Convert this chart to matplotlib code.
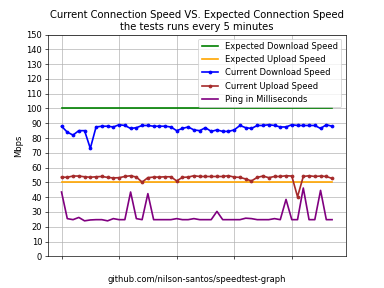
import matplotlib
matplotlib.use('Agg')
import matplotlib.pyplot as plt

# speedtest runs (one every 5 minutes)
download = [88, 84, 82, 85, 85, 73, 87.5, 88, 88, 87.5, 89, 88.5, 86.5, 87, 88.5, 88.5,
            88, 88, 88, 87.5, 85, 86.5, 87.5, 85.5, 85, 87, 84.5, 85.5, 84.5, 84.5,
            85.5, 88.5, 87, 86.5, 88.5, 88.5, 89, 88.5, 87.5, 87.5, 89, 88.5, 88.5,
            88.5, 88.5, 86.5, 89, 88]
upload = [53.5, 53.5, 54.3, 54.3, 53.8, 53.5, 53.8, 54, 53.4, 53, 53.2, 54, 54.5, 53.6,
          50.2, 53.2, 53.6, 53.6, 53.8, 53.8, 51, 53.4, 53.6, 54.5, 54, 54, 54, 54,
          54, 54.5, 53.6, 53.4, 52.3, 51, 53.4, 54.3, 53.2, 54, 54, 54.5, 54.3, 40.3,
          54, 54.5, 54, 54.3, 54, 52.7]
ping = [43.5, 25.5, 24.8, 26.3, 24, 24.6, 24.8, 24.8, 24, 25.5, 24.8, 24.8, 43.5, 25.5,
        24.8, 42.4, 24.8, 24.8, 24.8, 24.8, 25.5, 24.8, 24.8, 25.5, 24.8, 24.8, 24.8,
        30.4, 24.8, 24.8, 24.8, 24.8, 25.8, 25.5, 24.8, 24.8, 24.8, 25.5, 24.8, 38.5,
        24.8, 24.8, 46.2, 24.8, 24.8, 44.6, 24.8, 24.8]
expected_download = 100
expected_upload = 50

runs = list(range(len(download)))

fig = plt.figure(figsize=(6.4, 4.8), dpi=60)
lw = 2
plt.plot(runs, [expected_download] * len(runs), color='green', lw=lw, label='Expected Download Speed')
plt.plot(runs, [expected_upload] * len(runs), color='orange', lw=lw, label='Expected Upload Speed')
plt.plot(runs, download, color='blue', marker='.', ms=7, lw=lw, label='Current Download Speed')
plt.plot(runs, upload, color='brown', marker='.', ms=7, lw=lw, label='Current Upload Speed')
plt.plot(runs, ping, color='purple', lw=lw, label='Ping in Milliseconds')

plt.title('Current Connection Speed VS. Expected Connection Speed\nthe tests runs every 5 minutes')
plt.ylabel('Mbps')
plt.xlabel('github.com/nilson-santos/speedtest-graph', labelpad=15)
plt.xticks([0, 10, 20, 30, 40], ['', '', '', '', ''])
plt.yticks(range(0, 151, 10))
plt.ylim(0, 150)
plt.grid(True)
plt.legend(loc='upper right')
plt.savefig('out.png', dpi=60)
